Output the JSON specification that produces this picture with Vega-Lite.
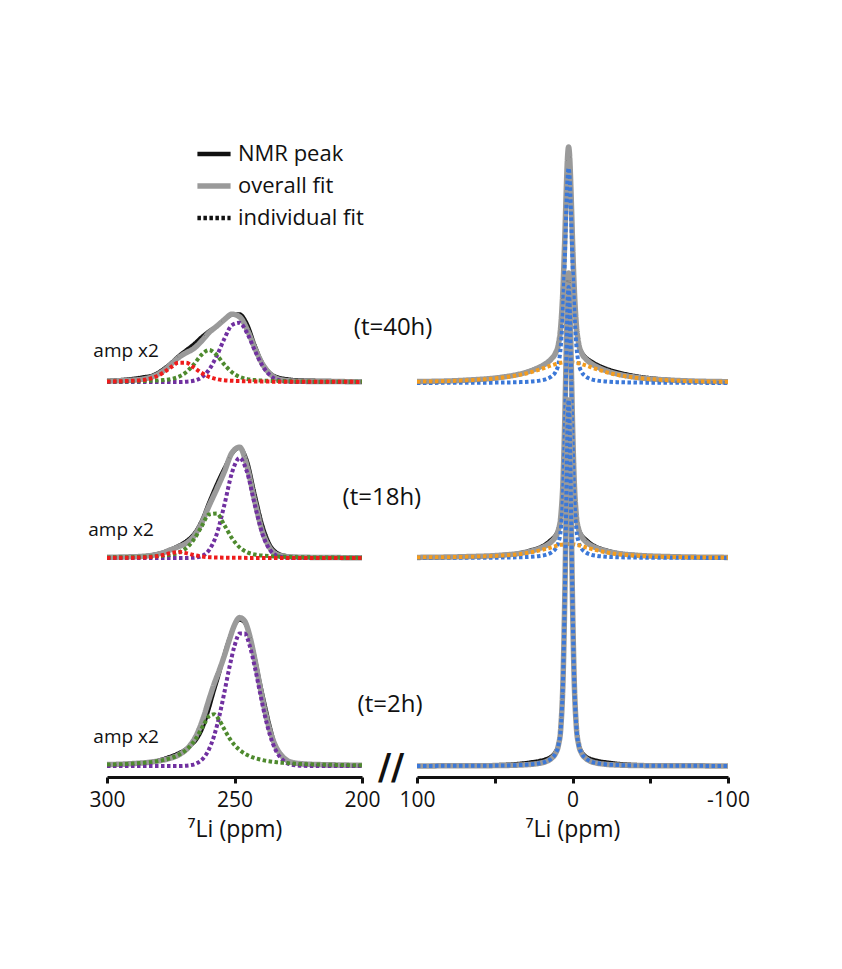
{
  "$schema": "https://vega.github.io/schema/vega-lite/v6.json",
  "padding": {"left": 88, "top": 127, "right": 10, "bottom": 10},
  "bounds": "flush",
  "spacing": 55,
  "config": {
    "view": {"stroke": null},
    "font": "Open Sans",
    "axis": {
      "grid": false,
      "domainColor": "#111111",
      "domainWidth": 3,
      "tickColor": "#111111",
      "tickWidth": 3,
      "tickSize": 6,
      "labelColor": "#111111",
      "labelFont": "Open Sans",
      "labelFontSize": 21,
      "labelPadding": 6,
      "labelFlush": false,
      "labelOverlap": false,
      "titleColor": "#111111",
      "titleFont": "Open Sans",
      "titleFontSize": 23,
      "titleFontWeight": "normal",
      "titlePadding": 8
    },
    "legend": {"labelFont": "Open Sans", "labelFontSize": 22, "labelColor": "#111111"}
  },
  "datasets": {
    "left": [
      {"time": "40h", "ppm": 300, "NMR peak": 396.5, "overall fit": 395.9, "fit 249 ppm": 395, "fit 259 ppm": 395.4, "fit 270 ppm": 395.5},
      {"time": "40h", "ppm": 292, "NMR peak": 398, "overall fit": 396.6, "fit 249 ppm": 395, "fit 259 ppm": 395.6, "fit 270 ppm": 396},
      {"time": "40h", "ppm": 286, "NMR peak": 400, "overall fit": 397.9, "fit 249 ppm": 395, "fit 259 ppm": 395.9, "fit 270 ppm": 397},
      {"time": "40h", "ppm": 282, "NMR peak": 402, "overall fit": 400.5, "fit 249 ppm": 395, "fit 259 ppm": 396.3, "fit 270 ppm": 399.2},
      {"time": "40h", "ppm": 278, "NMR peak": 408, "overall fit": 406, "fit 249 ppm": 395, "fit 259 ppm": 396.9, "fit 270 ppm": 404.2},
      {"time": "40h", "ppm": 275, "NMR peak": 414, "overall fit": 412.5, "fit 249 ppm": 395, "fit 259 ppm": 397.9, "fit 270 ppm": 409.6},
      {"time": "40h", "ppm": 272, "NMR peak": 421, "overall fit": 419.3, "fit 249 ppm": 395, "fit 259 ppm": 400.1, "fit 270 ppm": 414.2},
      {"time": "40h", "ppm": 269, "NMR peak": 427, "overall fit": 424.2, "fit 249 ppm": 395.3, "fit 259 ppm": 404.7, "fit 270 ppm": 414.2},
      {"time": "40h", "ppm": 266, "NMR peak": 433, "overall fit": 428.4, "fit 249 ppm": 396.3, "fit 259 ppm": 412.5, "fit 270 ppm": 409.6},
      {"time": "40h", "ppm": 263, "NMR peak": 440, "overall fit": 435.7, "fit 249 ppm": 399.5, "fit 259 ppm": 422, "fit 270 ppm": 404.2},
      {"time": "40h", "ppm": 260, "NMR peak": 446, "overall fit": 444.4, "fit 249 ppm": 407.2, "fit 259 ppm": 427, "fit 270 ppm": 400.2},
      {"time": "40h", "ppm": 257, "NMR peak": 451, "overall fit": 450.7, "fit 249 ppm": 420.8, "fit 259 ppm": 422, "fit 270 ppm": 397.9},
      {"time": "40h", "ppm": 254, "NMR peak": 457, "overall fit": 457.3, "fit 249 ppm": 438.1, "fit 259 ppm": 412.5, "fit 270 ppm": 396.7},
      {"time": "40h", "ppm": 251, "NMR peak": 462, "overall fit": 462.8, "fit 249 ppm": 451.9, "fit 259 ppm": 404.7, "fit 270 ppm": 396.2},
      {"time": "40h", "ppm": 248, "NMR peak": 463, "overall fit": 460.2, "fit 249 ppm": 454.2, "fit 259 ppm": 400.1, "fit 270 ppm": 395.9},
      {"time": "40h", "ppm": 245, "NMR peak": 453, "overall fit": 447.2, "fit 249 ppm": 443.6, "fit 259 ppm": 397.9, "fit 270 ppm": 395.7},
      {"time": "40h", "ppm": 242, "NMR peak": 432, "overall fit": 428.8, "fit 249 ppm": 426.4, "fit 259 ppm": 396.9, "fit 270 ppm": 395.6},
      {"time": "40h", "ppm": 239, "NMR peak": 414, "overall fit": 412.9, "fit 249 ppm": 411, "fit 259 ppm": 396.4, "fit 270 ppm": 395.5},
      {"time": "40h", "ppm": 236, "NMR peak": 404, "overall fit": 403, "fit 249 ppm": 401.5, "fit 259 ppm": 396.1, "fit 270 ppm": 395.4},
      {"time": "40h", "ppm": 233, "NMR peak": 400, "overall fit": 398.2, "fit 249 ppm": 397, "fit 259 ppm": 395.9, "fit 270 ppm": 395.3},
      {"time": "40h", "ppm": 229, "NMR peak": 398, "overall fit": 396.3, "fit 249 ppm": 395.3, "fit 259 ppm": 395.7, "fit 270 ppm": 395.3},
      {"time": "40h", "ppm": 224, "NMR peak": 397, "overall fit": 395.7, "fit 249 ppm": 395, "fit 259 ppm": 395.5, "fit 270 ppm": 395.2},
      {"time": "40h", "ppm": 215, "NMR peak": 396.5, "overall fit": 395.5, "fit 249 ppm": 395, "fit 259 ppm": 395.3, "fit 270 ppm": 395.2},
      {"time": "40h", "ppm": 200, "NMR peak": 396, "overall fit": 395.3, "fit 249 ppm": 395, "fit 259 ppm": 395.2, "fit 270 ppm": 395.1},

      {"time": "18h", "ppm": 300, "NMR peak": 219.5, "overall fit": 219.7, "fit 249 ppm": 219, "fit 259 ppm": 219.6, "fit 270 ppm": 219.1},
      {"time": "18h", "ppm": 292, "NMR peak": 220, "overall fit": 220.1, "fit 249 ppm": 219, "fit 259 ppm": 219.8, "fit 270 ppm": 219.3},
      {"time": "18h", "ppm": 286, "NMR peak": 221, "overall fit": 220.7, "fit 249 ppm": 219, "fit 259 ppm": 220.2, "fit 270 ppm": 219.5},
      {"time": "18h", "ppm": 282, "NMR peak": 222.5, "overall fit": 221.8, "fit 249 ppm": 219, "fit 259 ppm": 220.6, "fit 270 ppm": 220.2},
      {"time": "18h", "ppm": 278, "NMR peak": 225, "overall fit": 224.3, "fit 249 ppm": 219, "fit 259 ppm": 221.3, "fit 270 ppm": 222},
      {"time": "18h", "ppm": 275, "NMR peak": 228, "overall fit": 227.2, "fit 249 ppm": 219, "fit 259 ppm": 222.3, "fit 270 ppm": 223.9},
      {"time": "18h", "ppm": 272, "NMR peak": 231.5, "overall fit": 230.3, "fit 249 ppm": 219, "fit 259 ppm": 224.3, "fit 270 ppm": 225},
      {"time": "18h", "ppm": 269, "NMR peak": 236, "overall fit": 233.6, "fit 249 ppm": 219, "fit 259 ppm": 228.7, "fit 270 ppm": 223.9},
      {"time": "18h", "ppm": 266, "NMR peak": 243, "overall fit": 240.6, "fit 249 ppm": 219.3, "fit 259 ppm": 237.3, "fit 270 ppm": 222},
      {"time": "18h", "ppm": 263, "NMR peak": 256, "overall fit": 253.5, "fit 249 ppm": 220.8, "fit 259 ppm": 250.1, "fit 270 ppm": 220.6},
      {"time": "18h", "ppm": 260, "NMR peak": 275, "overall fit": 271.1, "fit 249 ppm": 226.8, "fit 259 ppm": 262.5, "fit 270 ppm": 219.8},
      {"time": "18h", "ppm": 257, "NMR peak": 293, "overall fit": 287.7, "fit 249 ppm": 242.7, "fit 259 ppm": 263.5, "fit 270 ppm": 219.5},
      {"time": "18h", "ppm": 254, "NMR peak": 309, "overall fit": 305.1, "fit 249 ppm": 271.8, "fit 259 ppm": 252, "fit 270 ppm": 219.3},
      {"time": "18h", "ppm": 251, "NMR peak": 323, "overall fit": 324.2, "fit 249 ppm": 304.2, "fit 259 ppm": 238.8, "fit 270 ppm": 219.2},
      {"time": "18h", "ppm": 248, "NMR peak": 329, "overall fit": 329.8, "fit 249 ppm": 319, "fit 259 ppm": 229.6, "fit 270 ppm": 219.2},
      {"time": "18h", "ppm": 245, "NMR peak": 316, "overall fit": 310, "fit 249 ppm": 304.2, "fit 259 ppm": 224.7, "fit 270 ppm": 219.1},
      {"time": "18h", "ppm": 242, "NMR peak": 283, "overall fit": 275.4, "fit 249 ppm": 271.8, "fit 259 ppm": 222.5, "fit 270 ppm": 219.1},
      {"time": "18h", "ppm": 239, "NMR peak": 252, "overall fit": 245.2, "fit 249 ppm": 242.7, "fit 259 ppm": 221.4, "fit 270 ppm": 219.1},
      {"time": "18h", "ppm": 236, "NMR peak": 232, "overall fit": 228.6, "fit 249 ppm": 226.8, "fit 259 ppm": 220.8, "fit 270 ppm": 219.1},
      {"time": "18h", "ppm": 233, "NMR peak": 224, "overall fit": 222.2, "fit 249 ppm": 220.8, "fit 259 ppm": 220.4, "fit 270 ppm": 219.1},
      {"time": "18h", "ppm": 229, "NMR peak": 221, "overall fit": 220.3, "fit 249 ppm": 219.2, "fit 259 ppm": 220.1, "fit 270 ppm": 219.1},
      {"time": "18h", "ppm": 224, "NMR peak": 220, "overall fit": 219.8, "fit 249 ppm": 219, "fit 259 ppm": 219.8, "fit 270 ppm": 219.1},
      {"time": "18h", "ppm": 215, "NMR peak": 219.5, "overall fit": 219.5, "fit 249 ppm": 219, "fit 259 ppm": 219.5, "fit 270 ppm": 219.1},
      {"time": "18h", "ppm": 200, "NMR peak": 219.5, "overall fit": 219.3, "fit 249 ppm": 219, "fit 259 ppm": 219.3, "fit 270 ppm": 219.1},

      {"time": "2h", "ppm": 300, "NMR peak": 12, "overall fit": 12.4, "fit 249 ppm": 11, "fit 259 ppm": 12.4},
      {"time": "2h", "ppm": 290, "NMR peak": 13, "overall fit": 13.4, "fit 249 ppm": 11, "fit 259 ppm": 13.4},
      {"time": "2h", "ppm": 282, "NMR peak": 15.5, "overall fit": 15.2, "fit 249 ppm": 11, "fit 259 ppm": 15.2},
      {"time": "2h", "ppm": 276, "NMR peak": 20, "overall fit": 18.2, "fit 249 ppm": 11, "fit 259 ppm": 18.2},
      {"time": "2h", "ppm": 272, "NMR peak": 24, "overall fit": 22, "fit 249 ppm": 11, "fit 259 ppm": 22},
      {"time": "2h", "ppm": 268, "NMR peak": 30, "overall fit": 29.9, "fit 249 ppm": 11.6, "fit 259 ppm": 29.3},
      {"time": "2h", "ppm": 265, "NMR peak": 37, "overall fit": 41.4, "fit 249 ppm": 13.5, "fit 259 ppm": 38.9},
      {"time": "2h", "ppm": 262, "NMR peak": 52, "overall fit": 61, "fit 249 ppm": 19.4, "fit 259 ppm": 52.6},
      {"time": "2h", "ppm": 260, "NMR peak": 68, "overall fit": 77.4, "fit 249 ppm": 27.7, "fit 259 ppm": 60.7},
      {"time": "2h", "ppm": 258, "NMR peak": 86, "overall fit": 92.9, "fit 249 ppm": 41.2, "fit 259 ppm": 62.7},
      {"time": "2h", "ppm": 256, "NMR peak": 103, "overall fit": 106.5, "fit 249 ppm": 60.4, "fit 259 ppm": 57.1},
      {"time": "2h", "ppm": 254, "NMR peak": 123, "overall fit": 121.1, "fit 249 ppm": 84.3, "fit 259 ppm": 47.8},
      {"time": "2h", "ppm": 252, "NMR peak": 139, "overall fit": 137.4, "fit 249 ppm": 109.5, "fit 259 ppm": 38.9},
      {"time": "2h", "ppm": 250, "NMR peak": 152, "overall fit": 152, "fit 249 ppm": 131, "fit 259 ppm": 32},
      {"time": "2h", "ppm": 248, "NMR peak": 157, "overall fit": 159.4, "fit 249 ppm": 143.4, "fit 259 ppm": 27},
      {"time": "2h", "ppm": 246, "NMR peak": 154, "overall fit": 155.8, "fit 249 ppm": 143.4, "fit 259 ppm": 23.4},
      {"time": "2h", "ppm": 244, "NMR peak": 141, "overall fit": 140.8, "fit 249 ppm": 131, "fit 259 ppm": 20.8},
      {"time": "2h", "ppm": 242, "NMR peak": 120, "overall fit": 117.4, "fit 249 ppm": 109.5, "fit 259 ppm": 18.9},
      {"time": "2h", "ppm": 240, "NMR peak": 95, "overall fit": 90.8, "fit 249 ppm": 84.3, "fit 259 ppm": 17.5},
      {"time": "2h", "ppm": 238, "NMR peak": 72, "overall fit": 65.8, "fit 249 ppm": 60.4, "fit 259 ppm": 16.4},
      {"time": "2h", "ppm": 236, "NMR peak": 50, "overall fit": 45.8, "fit 249 ppm": 41.2, "fit 259 ppm": 15.6},
      {"time": "2h", "ppm": 234, "NMR peak": 32, "overall fit": 31.6, "fit 249 ppm": 27.7, "fit 259 ppm": 14.9},
      {"time": "2h", "ppm": 231, "NMR peak": 19, "overall fit": 20, "fit 249 ppm": 16.8, "fit 259 ppm": 14.2},
      {"time": "2h", "ppm": 227, "NMR peak": 14, "overall fit": 14.4, "fit 249 ppm": 12, "fit 259 ppm": 13.4},
      {"time": "2h", "ppm": 220, "NMR peak": 12, "overall fit": 12.7, "fit 249 ppm": 11, "fit 259 ppm": 12.7},
      {"time": "2h", "ppm": 210, "NMR peak": 11.5, "overall fit": 12.1, "fit 249 ppm": 11, "fit 259 ppm": 12.1},
      {"time": "2h", "ppm": 200, "NMR peak": 11.5, "overall fit": 11.7, "fit 249 ppm": 11, "fit 259 ppm": 11.7}
    ],
    "right": [
      {"time": "40h", "ppm": 100, "NMR peak": 395.5, "overall fit": 395.4, "fit sharp 2 ppm": 394.1, "fit broad 2 ppm": 395.3},
      {"time": "40h", "ppm": 70, "NMR peak": 396.8, "overall fit": 396.7, "fit sharp 2 ppm": 394.2, "fit broad 2 ppm": 396.5},
      {"time": "40h", "ppm": 45, "NMR peak": 400, "overall fit": 399.9, "fit sharp 2 ppm": 394.5, "fit broad 2 ppm": 399.4},
      {"time": "40h", "ppm": 35, "NMR peak": 402.8, "overall fit": 402.6, "fit sharp 2 ppm": 394.8, "fit broad 2 ppm": 401.8},
      {"time": "40h", "ppm": 27, "NMR peak": 406.5, "overall fit": 406.1, "fit sharp 2 ppm": 395.4, "fit broad 2 ppm": 404.7},
      {"time": "40h", "ppm": 21, "NMR peak": 410.5, "overall fit": 410, "fit sharp 2 ppm": 396.4, "fit broad 2 ppm": 407.6},
      {"time": "40h", "ppm": 16.5, "NMR peak": 414.5, "overall fit": 414.1, "fit sharp 2 ppm": 398.1, "fit broad 2 ppm": 410},
      {"time": "40h", "ppm": 13.5, "NMR peak": 418.5, "overall fit": 418.2, "fit sharp 2 ppm": 400.6, "fit broad 2 ppm": 411.6},
      {"time": "40h", "ppm": 11, "NMR peak": 424, "overall fit": 423.6, "fit sharp 2 ppm": 404.8, "fit broad 2 ppm": 412.8},
      {"time": "40h", "ppm": 9, "NMR peak": 433.5, "overall fit": 433.1, "fit sharp 2 ppm": 413.4, "fit broad 2 ppm": 413.7},
      {"time": "40h", "ppm": 7.5, "NMR peak": 452, "overall fit": 451.6, "fit sharp 2 ppm": 431.4, "fit broad 2 ppm": 414.2},
      {"time": "40h", "ppm": 6, "NMR peak": 493, "overall fit": 493.1, "fit sharp 2 ppm": 472.5, "fit broad 2 ppm": 414.6},
      {"time": "40h", "ppm": 5, "NMR peak": 536, "overall fit": 536.5, "fit sharp 2 ppm": 515.7, "fit broad 2 ppm": 414.8},
      {"time": "40h", "ppm": 4, "NMR peak": 587, "overall fit": 586.9, "fit sharp 2 ppm": 566, "fit broad 2 ppm": 414.9},
      {"time": "40h", "ppm": 3.2, "NMR peak": 619, "overall fit": 619.3, "fit sharp 2 ppm": 598.3, "fit broad 2 ppm": 415},
      {"time": "40h", "ppm": 2.5, "NMR peak": 630, "overall fit": 630, "fit sharp 2 ppm": 609, "fit broad 2 ppm": 415},
      {"time": "40h", "ppm": 1.8, "NMR peak": 619, "overall fit": 619.3, "fit sharp 2 ppm": 598.3, "fit broad 2 ppm": 415},
      {"time": "40h", "ppm": 1, "NMR peak": 587, "overall fit": 586.9, "fit sharp 2 ppm": 566, "fit broad 2 ppm": 414.9},
      {"time": "40h", "ppm": 0, "NMR peak": 536, "overall fit": 536.5, "fit sharp 2 ppm": 515.7, "fit broad 2 ppm": 414.8},
      {"time": "40h", "ppm": -1, "NMR peak": 493, "overall fit": 493.1, "fit sharp 2 ppm": 472.5, "fit broad 2 ppm": 414.6},
      {"time": "40h", "ppm": -2.5, "NMR peak": 452, "overall fit": 451.6, "fit sharp 2 ppm": 431.4, "fit broad 2 ppm": 414.2},
      {"time": "40h", "ppm": -4, "NMR peak": 433.5, "overall fit": 433.1, "fit sharp 2 ppm": 413.4, "fit broad 2 ppm": 413.7},
      {"time": "40h", "ppm": -6, "NMR peak": 425, "overall fit": 423.6, "fit sharp 2 ppm": 404.8, "fit broad 2 ppm": 412.8},
      {"time": "40h", "ppm": -8.5, "NMR peak": 420, "overall fit": 418.2, "fit sharp 2 ppm": 400.6, "fit broad 2 ppm": 411.6},
      {"time": "40h", "ppm": -11.5, "NMR peak": 416.5, "overall fit": 414.1, "fit sharp 2 ppm": 398.1, "fit broad 2 ppm": 410},
      {"time": "40h", "ppm": -16, "NMR peak": 412.5, "overall fit": 410, "fit sharp 2 ppm": 396.4, "fit broad 2 ppm": 407.6},
      {"time": "40h", "ppm": -22, "NMR peak": 408.5, "overall fit": 406.1, "fit sharp 2 ppm": 395.4, "fit broad 2 ppm": 404.7},
      {"time": "40h", "ppm": -30, "NMR peak": 404.8, "overall fit": 402.6, "fit sharp 2 ppm": 394.8, "fit broad 2 ppm": 401.8},
      {"time": "40h", "ppm": -40, "NMR peak": 401.5, "overall fit": 399.9, "fit sharp 2 ppm": 394.5, "fit broad 2 ppm": 399.4},
      {"time": "40h", "ppm": -65, "NMR peak": 397.2, "overall fit": 396.7, "fit sharp 2 ppm": 394.2, "fit broad 2 ppm": 396.5},
      {"time": "40h", "ppm": -100, "NMR peak": 395.3, "overall fit": 395.3, "fit sharp 2 ppm": 394.1, "fit broad 2 ppm": 395.2},

      {"time": "18h", "ppm": 100, "NMR peak": 219.6, "overall fit": 219.6, "fit sharp 2 ppm": 219.1, "fit broad 2 ppm": 219.6},
      {"time": "18h", "ppm": 70, "NMR peak": 220.4, "overall fit": 220.3, "fit sharp 2 ppm": 219.2, "fit broad 2 ppm": 220.1},
      {"time": "18h", "ppm": 45, "NMR peak": 222.3, "overall fit": 221.9, "fit sharp 2 ppm": 219.4, "fit broad 2 ppm": 221.5},
      {"time": "18h", "ppm": 35, "NMR peak": 224, "overall fit": 223.4, "fit sharp 2 ppm": 219.7, "fit broad 2 ppm": 222.7},
      {"time": "18h", "ppm": 27, "NMR peak": 227, "overall fit": 225.8, "fit sharp 2 ppm": 220.2, "fit broad 2 ppm": 224.6},
      {"time": "18h", "ppm": 21, "NMR peak": 230, "overall fit": 228.7, "fit sharp 2 ppm": 221.1, "fit broad 2 ppm": 226.6},
      {"time": "18h", "ppm": 16.5, "NMR peak": 234, "overall fit": 231.9, "fit sharp 2 ppm": 222.5, "fit broad 2 ppm": 228.4},
      {"time": "18h", "ppm": 13.5, "NMR peak": 238, "overall fit": 235.4, "fit sharp 2 ppm": 224.7, "fit broad 2 ppm": 229.7},
      {"time": "18h", "ppm": 11, "NMR peak": 242, "overall fit": 240.1, "fit sharp 2 ppm": 228.2, "fit broad 2 ppm": 230.9},
      {"time": "18h", "ppm": 9, "NMR peak": 249, "overall fit": 247.4, "fit sharp 2 ppm": 234.7, "fit broad 2 ppm": 231.7},
      {"time": "18h", "ppm": 7.5, "NMR peak": 261.5, "overall fit": 260.9, "fit sharp 2 ppm": 247.7, "fit broad 2 ppm": 232.2},
      {"time": "18h", "ppm": 6, "NMR peak": 300.5, "overall fit": 300.4, "fit sharp 2 ppm": 286.8, "fit broad 2 ppm": 232.6},
      {"time": "18h", "ppm": 5, "NMR peak": 355, "overall fit": 354.8, "fit sharp 2 ppm": 341, "fit broad 2 ppm": 232.8},
      {"time": "18h", "ppm": 4, "NMR peak": 428, "overall fit": 428, "fit sharp 2 ppm": 414.1, "fit broad 2 ppm": 232.9},
      {"time": "18h", "ppm": 3.2, "NMR peak": 484, "overall fit": 484.2, "fit sharp 2 ppm": 470.2, "fit broad 2 ppm": 233},
      {"time": "18h", "ppm": 2.5, "NMR peak": 504, "overall fit": 504, "fit sharp 2 ppm": 490, "fit broad 2 ppm": 233},
      {"time": "18h", "ppm": 1.8, "NMR peak": 484, "overall fit": 484.2, "fit sharp 2 ppm": 470.2, "fit broad 2 ppm": 233},
      {"time": "18h", "ppm": 1, "NMR peak": 428, "overall fit": 428, "fit sharp 2 ppm": 414.1, "fit broad 2 ppm": 232.9},
      {"time": "18h", "ppm": 0, "NMR peak": 355, "overall fit": 354.8, "fit sharp 2 ppm": 341, "fit broad 2 ppm": 232.8},
      {"time": "18h", "ppm": -1, "NMR peak": 300.5, "overall fit": 300.4, "fit sharp 2 ppm": 286.8, "fit broad 2 ppm": 232.6},
      {"time": "18h", "ppm": -2.5, "NMR peak": 261.5, "overall fit": 260.9, "fit sharp 2 ppm": 247.7, "fit broad 2 ppm": 232.2},
      {"time": "18h", "ppm": -4, "NMR peak": 249, "overall fit": 247.4, "fit sharp 2 ppm": 234.7, "fit broad 2 ppm": 231.7},
      {"time": "18h", "ppm": -6, "NMR peak": 242, "overall fit": 240.1, "fit sharp 2 ppm": 228.2, "fit broad 2 ppm": 230.9},
      {"time": "18h", "ppm": -8.5, "NMR peak": 238, "overall fit": 235.4, "fit sharp 2 ppm": 224.7, "fit broad 2 ppm": 229.7},
      {"time": "18h", "ppm": -11.5, "NMR peak": 234, "overall fit": 231.9, "fit sharp 2 ppm": 222.5, "fit broad 2 ppm": 228.4},
      {"time": "18h", "ppm": -16, "NMR peak": 230, "overall fit": 228.7, "fit sharp 2 ppm": 221.1, "fit broad 2 ppm": 226.6},
      {"time": "18h", "ppm": -22, "NMR peak": 227, "overall fit": 225.8, "fit sharp 2 ppm": 220.2, "fit broad 2 ppm": 224.6},
      {"time": "18h", "ppm": -30, "NMR peak": 224, "overall fit": 223.4, "fit sharp 2 ppm": 219.7, "fit broad 2 ppm": 222.7},
      {"time": "18h", "ppm": -40, "NMR peak": 222.3, "overall fit": 221.9, "fit sharp 2 ppm": 219.4, "fit broad 2 ppm": 221.5},
      {"time": "18h", "ppm": -65, "NMR peak": 220.4, "overall fit": 220.3, "fit sharp 2 ppm": 219.2, "fit broad 2 ppm": 220.1},
      {"time": "18h", "ppm": -100, "NMR peak": 219.6, "overall fit": 219.6, "fit sharp 2 ppm": 219.1, "fit broad 2 ppm": 219.5},

      {"time": "2h", "ppm": 100, "NMR peak": 11.3, "overall fit": 11.1, "fit sharp 2 ppm": 11.1},
      {"time": "2h", "ppm": 70, "NMR peak": 11.7, "overall fit": 11.2, "fit sharp 2 ppm": 11.2},
      {"time": "2h", "ppm": 45, "NMR peak": 12.5, "overall fit": 11.5, "fit sharp 2 ppm": 11.5},
      {"time": "2h", "ppm": 35, "NMR peak": 13.5, "overall fit": 11.9, "fit sharp 2 ppm": 11.9},
      {"time": "2h", "ppm": 27, "NMR peak": 15, "overall fit": 12.6, "fit sharp 2 ppm": 12.6},
      {"time": "2h", "ppm": 21, "NMR peak": 16.5, "overall fit": 13.8, "fit sharp 2 ppm": 13.8},
      {"time": "2h", "ppm": 16.5, "NMR peak": 18.5, "overall fit": 15.8, "fit sharp 2 ppm": 15.8},
      {"time": "2h", "ppm": 13.5, "NMR peak": 21, "overall fit": 18.7, "fit sharp 2 ppm": 18.7},
      {"time": "2h", "ppm": 11, "NMR peak": 25.5, "overall fit": 23.4, "fit sharp 2 ppm": 23.4},
      {"time": "2h", "ppm": 9, "NMR peak": 33.5, "overall fit": 32.2, "fit sharp 2 ppm": 32.2},
      {"time": "2h", "ppm": 7.5, "NMR peak": 50, "overall fit": 49.8, "fit sharp 2 ppm": 49.8},
      {"time": "2h", "ppm": 6, "NMR peak": 102.5, "overall fit": 102.5, "fit sharp 2 ppm": 102.5},
      {"time": "2h", "ppm": 5, "NMR peak": 176, "overall fit": 176, "fit sharp 2 ppm": 176},
      {"time": "2h", "ppm": 4, "NMR peak": 275, "overall fit": 275, "fit sharp 2 ppm": 275},
      {"time": "2h", "ppm": 3.2, "NMR peak": 350, "overall fit": 350, "fit sharp 2 ppm": 350},
      {"time": "2h", "ppm": 2.5, "NMR peak": 377, "overall fit": 377, "fit sharp 2 ppm": 377},
      {"time": "2h", "ppm": 1.8, "NMR peak": 350, "overall fit": 350, "fit sharp 2 ppm": 350},
      {"time": "2h", "ppm": 1, "NMR peak": 275, "overall fit": 275, "fit sharp 2 ppm": 275},
      {"time": "2h", "ppm": 0, "NMR peak": 176, "overall fit": 176, "fit sharp 2 ppm": 176},
      {"time": "2h", "ppm": -1, "NMR peak": 102.5, "overall fit": 102.5, "fit sharp 2 ppm": 102.5},
      {"time": "2h", "ppm": -2.5, "NMR peak": 50, "overall fit": 49.8, "fit sharp 2 ppm": 49.8},
      {"time": "2h", "ppm": -4, "NMR peak": 33.5, "overall fit": 32.2, "fit sharp 2 ppm": 32.2},
      {"time": "2h", "ppm": -6, "NMR peak": 25.5, "overall fit": 23.4, "fit sharp 2 ppm": 23.4},
      {"time": "2h", "ppm": -8.5, "NMR peak": 21, "overall fit": 18.7, "fit sharp 2 ppm": 18.7},
      {"time": "2h", "ppm": -11.5, "NMR peak": 18.5, "overall fit": 15.8, "fit sharp 2 ppm": 15.8},
      {"time": "2h", "ppm": -16, "NMR peak": 16.5, "overall fit": 13.8, "fit sharp 2 ppm": 13.8},
      {"time": "2h", "ppm": -22, "NMR peak": 15, "overall fit": 12.6, "fit sharp 2 ppm": 12.6},
      {"time": "2h", "ppm": -30, "NMR peak": 13.5, "overall fit": 11.9, "fit sharp 2 ppm": 11.9},
      {"time": "2h", "ppm": -40, "NMR peak": 12.5, "overall fit": 11.5, "fit sharp 2 ppm": 11.5},
      {"time": "2h", "ppm": -65, "NMR peak": 11.7, "overall fit": 11.2, "fit sharp 2 ppm": 11.2},
      {"time": "2h", "ppm": -100, "NMR peak": 11.3, "overall fit": 11.1, "fit sharp 2 ppm": 11.1}
    ],
    "notes": [
      {"label": "(t=40h)", "kind": "time", "ppm": 187.8, "I": 449},
      {"label": "(t=18h)", "kind": "time", "ppm": 192.2, "I": 279},
      {"label": "(t=2h)", "kind": "time", "ppm": 189, "I": 72},
      {"label": "amp x2", "kind": "amp", "ppm": 292.5, "I": 426},
      {"label": "amp x2", "kind": "amp", "ppm": 294.5, "I": 247},
      {"label": "amp x2", "kind": "amp", "ppm": 292.5, "I": 40},
      {"label": "//", "kind": "break", "ppm": 188.6, "I": 9}
    ]
  },
  "resolve": {"scale": {"color": "independent", "strokeDash": "independent", "strokeWidth": "independent"},
              "legend": {"color": "independent", "strokeDash": "independent", "strokeWidth": "independent"}},
  "hconcat": [
    {
      "width": 255,
      "height": 650,
      "layer": [
        {
          "data": {"name": "left"},
          "transform": [
            {"fold": ["NMR peak", "overall fit", "fit 249 ppm", "fit 259 ppm", "fit 270 ppm"], "as": ["curve", "I"]},
            {"filter": "isValid(datum.I)"}
          ],
          "mark": {"type": "line", "interpolate": "monotone", "strokeCap": "butt", "strokeJoin": "round"},
          "encoding": {
            "x": {"field": "ppm", "type": "quantitative", "scale": {"domain": [200, 300], "reverse": true, "nice": false},
                  "axis": {"values": [300, 250, 200], "title": "⁷Li (ppm)"}},
            "y": {"field": "I", "type": "quantitative", "scale": {"domain": [0, 650], "nice": false, "zero": false}, "axis": null},
            "detail": {"field": "time", "type": "nominal"},
            "color": {"field": "curve", "type": "nominal",
              "scale": {"domain": ["NMR peak", "overall fit", "individual fit", "fit 249 ppm", "fit 259 ppm", "fit 270 ppm"],
                        "range": ["#111111", "#9a9a9a", "#111111", "#7030a0", "#4e8a2e", "#ee1c1c"]},
              "legend": {"values": ["NMR peak", "overall fit", "individual fit"], "title": null, "orient": "none", "legendX": 96, "legendY": 16,
                         "symbolType": "stroke", "symbolSize": 1100, "labelOffset": 13, "rowPadding": 10, "padding": 0,
                         "encode": {"symbols": {"update": {
                           "strokeDash": {"signal": "datum.value === 'individual fit' ? [3.5, 2.5] : [1, 0]"},
                           "strokeWidth": {"signal": "datum.value === 'overall fit' ? 5.5 : 4.5"}}}}}},
            "strokeDash": {"field": "curve", "type": "nominal",
              "scale": {"domain": ["NMR peak", "overall fit", "fit 249 ppm", "fit 259 ppm", "fit 270 ppm"],
                        "range": [[1, 0], [1, 0], [3.5, 2.5], [3.5, 2.5], [3.5, 2.5]]},
              "legend": null},
            "strokeWidth": {"field": "curve", "type": "nominal",
              "scale": {"type": "ordinal", "domain": ["NMR peak", "overall fit", "fit 249 ppm", "fit 259 ppm", "fit 270 ppm"],
                        "range": [3.5, 5.5, 4, 4, 4]},
              "legend": null}
          }
        },
        {
          "data": {"name": "notes"},
          "transform": [{"filter": "datum.kind === 'time'"}],
          "mark": {"type": "text", "fontSize": 24, "font": "Open Sans", "color": "#111111", "align": "center", "baseline": "middle"},
          "encoding": {
            "x": {"field": "ppm", "type": "quantitative"},
            "y": {"field": "I", "type": "quantitative"},
            "text": {"field": "label"}
          }
        },
        {
          "data": {"name": "notes"},
          "transform": [{"filter": "datum.kind === 'amp'"}],
          "mark": {"type": "text", "fontSize": 19, "font": "Open Sans", "color": "#111111", "align": "center", "baseline": "middle"},
          "encoding": {
            "x": {"field": "ppm", "type": "quantitative"},
            "y": {"field": "I", "type": "quantitative"},
            "text": {"field": "label"}
          }
        },
        {
          "data": {"name": "notes"},
          "transform": [{"filter": "datum.kind === 'break'"}],
          "mark": {"type": "text", "fontSize": 36, "font": "DejaVu Sans", "fontWeight": "bold", "color": "#111111", "align": "center", "baseline": "middle"},
          "encoding": {
            "x": {"field": "ppm", "type": "quantitative"},
            "y": {"field": "I", "type": "quantitative"},
            "text": {"field": "label"}
          }
        }
      ]
    },
    {
      "width": 311,
      "height": 650,
      "data": {"name": "right"},
      "transform": [
        {"fold": ["NMR peak", "overall fit", "fit sharp 2 ppm", "fit broad 2 ppm"], "as": ["curve", "I"]},
        {"filter": "isValid(datum.I)"}
      ],
      "mark": {"type": "line", "interpolate": "monotone", "strokeCap": "butt", "strokeJoin": "round"},
      "encoding": {
        "x": {"field": "ppm", "type": "quantitative", "scale": {"domain": [-100, 100], "reverse": true, "nice": false},
              "axis": {"values": [100, 50, 0, -50, -100], "title": "⁷Li (ppm)",
                       "labelExpr": "datum.value === 100 ? '100' : datum.value === 0 ? '0' : datum.value === -100 ? '-100' : ''"}},
        "y": {"field": "I", "type": "quantitative", "scale": {"domain": [0, 650], "nice": false, "zero": false}, "axis": null},
        "detail": {"field": "time", "type": "nominal"},
        "color": {"field": "curve", "type": "nominal",
          "scale": {"domain": ["NMR peak", "overall fit", "fit sharp 2 ppm", "fit broad 2 ppm"],
                    "range": ["#111111", "#9a9a9a", "#3b78d8", "#f39c1f"]},
          "legend": null},
        "strokeDash": {"field": "curve", "type": "nominal",
          "scale": {"domain": ["NMR peak", "overall fit", "fit sharp 2 ppm", "fit broad 2 ppm"],
                    "range": [[1, 0], [1, 0], [3.5, 2.5], [3.5, 2.5]]},
          "legend": null},
        "strokeWidth": {"field": "curve", "type": "nominal",
          "scale": {"type": "ordinal", "domain": ["NMR peak", "overall fit", "fit sharp 2 ppm", "fit broad 2 ppm"],
                    "range": [3.5, 5.5, 4, 4]},
          "legend": null}
      }
    }
  ]
}
